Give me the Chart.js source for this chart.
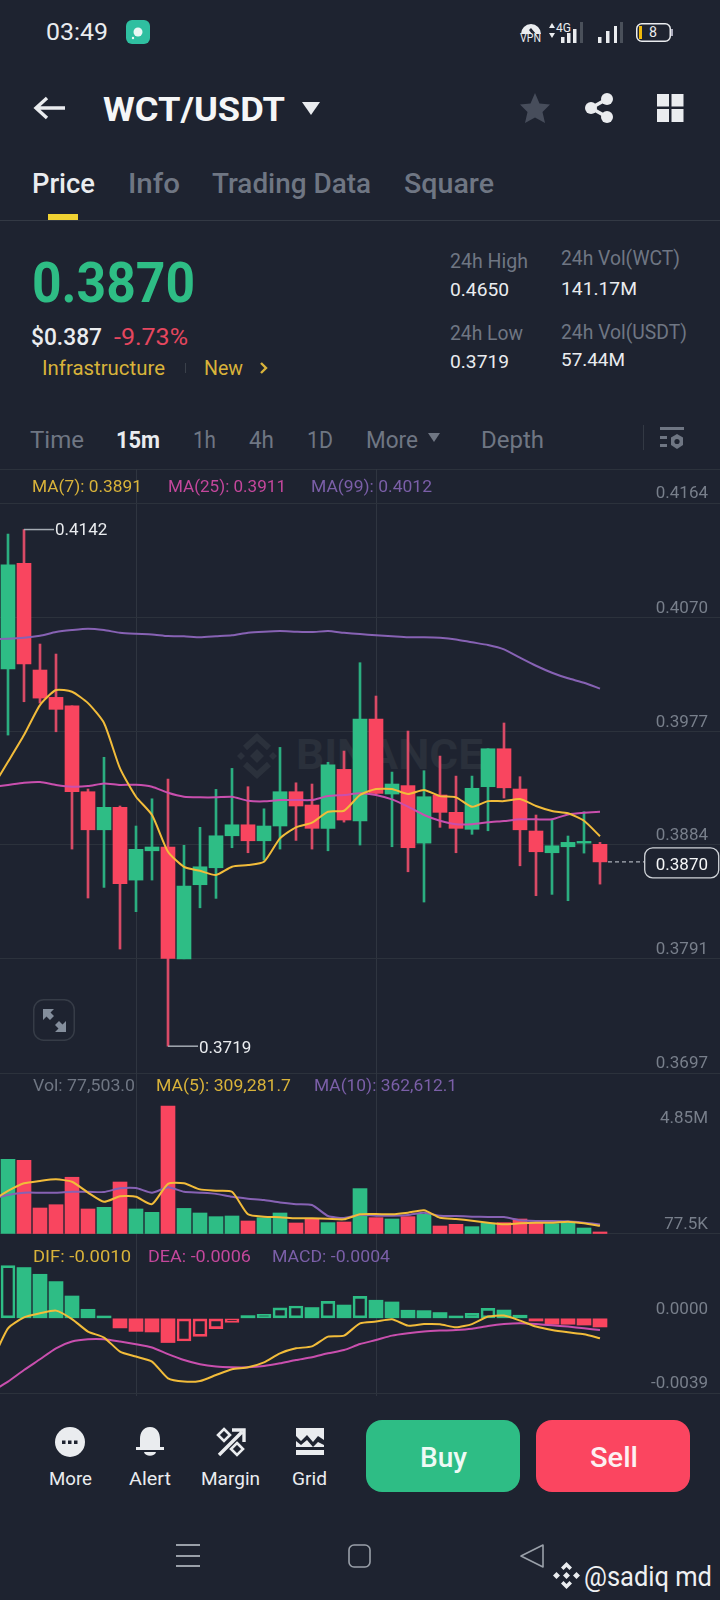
<!DOCTYPE html>
<html><head><meta charset="utf-8">
<script src="https://cdn.jsdelivr.net/npm/chart.js@4"></script>
<style>
html,body{margin:0;padding:0;background:#1e2330;}
#page{position:relative;width:720px;height:1600px;overflow:hidden;background:#1e2330;font-family:Roboto,sans-serif;}
.t{position:absolute;white-space:nowrap;transform-origin:0 50%;transform:translateY(-50%);line-height:1;}
.l{position:absolute;left:0;width:720px;height:1px;background:#2c323c;}
canvas{position:absolute;left:-15.7px;}
svg{position:absolute;overflow:visible;}
</style></head>
<body><div id="page">

<!-- status bar -->
<div class="t" data-w="62" style="left:46px;top:32px;font-size:24px;color:#eaecef">03:49</div>
<svg style="left:126px;top:20px" width="24" height="24"><rect width="24" height="24" rx="6" fill="#2fbfa0"/><circle cx="12" cy="12" r="4.5" fill="#eaf7f4"/><circle cx="7" cy="18" r="1.2" fill="#eaf7f4"/><circle cx="18" cy="11" r="1" fill="#2fbfa0"/></svg>
<svg style="left:520px;top:22px" width="22" height="12"><path d="M1 12 A10 10 0 0 1 21 12 L16 12 L11 6 L9 8 L12 12 L5 12 Z" fill="#eaecef"/></svg>
<div class="t" data-w="21" style="left:520px;top:38px;font-size:12px;color:#eaecef">VPN</div>
<svg style="left:549px;top:23px" width="6" height="16"><path d="M3 0 L6 5 H0 Z M3 15 L6 10 H0 Z" fill="#eaecef"/></svg>
<div class="t" data-w="15" style="left:556px;top:28px;font-size:12px;color:#eaecef">4G</div>
<svg style="left:561px;top:22px" width="64" height="21"><rect x="0" y="15" width="3.5" height="6" fill="#eaecef"/><rect x="6" y="11" width="3.5" height="10" fill="#eaecef"/><rect x="12" y="7" width="3.5" height="14" fill="#eaecef"/><rect x="19" y="0" width="3" height="21" fill="#4a505a"/><rect x="37" y="15" width="3.5" height="6" fill="#eaecef"/><rect x="45" y="9" width="3.5" height="12" fill="#eaecef"/><rect x="53" y="4" width="3" height="17" fill="#eaecef"/><rect x="59" y="0" width="3" height="21" fill="#4a505a"/></svg>
<svg style="left:636px;top:23px" width="38" height="19"><rect x=".75" y=".75" width="33.5" height="17.5" rx="5" fill="none" stroke="#eaecef" stroke-width="1.5"/><rect x="3" y="3" width="3" height="13" fill="#f0b90b"/><rect x="35" y="6" width="2" height="7" fill="#aab"/></svg>
<div class="t" data-w="8" style="left:649px;top:32px;font-size:14px;color:#eaecef">8</div>

<!-- title bar -->
<svg style="left:34px;top:97px" width="31" height="22"><path d="M31 11 H3 M13 1 L2 11 L13 21" fill="none" stroke="#eaecef" stroke-width="3.4"/></svg>
<div class="t" data-w="182" style="left:103px;top:109px;font-size:34px;font-weight:700;color:#f5f6f7">WCT/USDT</div>
<svg style="left:302px;top:102px" width="18" height="13"><path d="M0 0 H18 L9 13 Z" fill="#eaecef"/></svg>
<svg style="left:520px;top:93px" width="30" height="30"><path d="M15 0 L19.5 10.5 L30 11.5 L22.5 19 L25 30 L15 24.5 L5 30 L7.5 19 L0 11.5 L10.5 10.5 Z" fill="#474d5b"/></svg>
<svg style="left:585px;top:93px" width="29" height="30"><path d="M22 6 L6 15 L22 24" fill="none" stroke="#eaecef" stroke-width="3.5"/><circle cx="22" cy="6" r="6" fill="#eaecef"/><circle cx="6" cy="15" r="6" fill="#eaecef"/><circle cx="22" cy="24" r="6" fill="#eaecef"/></svg>
<svg style="left:657px;top:94px" width="26" height="28"><rect width="12" height="12.5" fill="#eaecef"/><rect x="14.5" width="12" height="12.5" fill="#eaecef"/><rect y="15" width="12" height="13" fill="#eaecef"/><rect x="14.5" y="15" width="12" height="13" fill="#eaecef"/></svg>

<!-- tabs -->
<div class="t" data-w="63" style="left:32px;top:184px;font-size:28px;font-weight:500;color:#eaecef">Price</div>
<div class="t" data-w="52" style="left:128px;top:184px;font-size:28px;font-weight:500;color:#6f7683">Info</div>
<div class="t" data-w="159" style="left:212px;top:184px;font-size:28px;font-weight:500;color:#6f7683">Trading Data</div>
<div class="t" data-w="90" style="left:404px;top:184px;font-size:28px;font-weight:500;color:#6f7683">Square</div>
<div style="position:absolute;left:48px;top:214px;width:30px;height:6px;background:#f0d232"></div>
<div class="l" style="top:220px;background:#333944"></div>

<!-- price block -->
<div class="t" data-w="163" style="left:32px;top:283px;font-size:56px;font-weight:700;color:#2ebd85">0.3870</div>
<div class="t" data-w="71" style="left:31px;top:337px;font-size:24px;font-weight:500;color:#eaecef">$0.387</div>
<div class="t" data-w="74" style="left:114px;top:337px;font-size:24px;color:#e5475f">-9.73%</div>
<div class="t" data-w="123" style="left:42px;top:368px;font-size:20px;color:#d9b33a">Infrastructure</div>
<div style="position:absolute;left:185px;top:363px;width:1px;height:10px;background:#3a404a"></div>
<div class="t" data-w="39" style="left:204px;top:368px;font-size:20px;color:#d9b33a">New</div>
<svg style="left:259px;top:362px" width="9" height="12"><path d="M2 1 L7 6 L2 11" fill="none" stroke="#d9b33a" stroke-width="2.4"/></svg>

<div class="t" data-w="78" style="left:450px;top:261px;font-size:20px;color:#6f7683">24h High</div>
<div class="t" data-w="59" style="left:450px;top:289px;font-size:19px;color:#eaecef">0.4650</div>
<div class="t" data-w="73" style="left:450px;top:333px;font-size:20px;color:#6f7683">24h Low</div>
<div class="t" data-w="59" style="left:450px;top:361px;font-size:19px;color:#eaecef">0.3719</div>
<div class="t" data-w="119" style="left:561px;top:258px;font-size:20px;color:#6f7683">24h Vol(WCT)</div>
<div class="t" data-w="76" style="left:561px;top:288px;font-size:19px;color:#eaecef">141.17M</div>
<div class="t" data-w="126" style="left:561px;top:332px;font-size:20px;color:#6f7683">24h Vol(USDT)</div>
<div class="t" data-w="64" style="left:561px;top:359px;font-size:19px;color:#eaecef">57.44M</div>

<!-- interval row -->
<div class="t" data-w="54" style="left:30px;top:440px;font-size:23px;color:#6f7683">Time</div>
<div class="t" data-w="44" style="left:116px;top:440px;font-size:23px;font-weight:700;color:#eaecef">15m</div>
<div class="t" data-w="23" style="left:193px;top:440px;font-size:23px;color:#6f7683">1h</div>
<div class="t" data-w="25" style="left:249px;top:440px;font-size:23px;color:#6f7683">4h</div>
<div class="t" data-w="26" style="left:307px;top:440px;font-size:23px;color:#6f7683">1D</div>
<div class="t" data-w="52" style="left:366px;top:440px;font-size:23px;color:#6f7683">More</div>
<svg style="left:428px;top:433px" width="12" height="9"><path d="M0 0 H12 L6 9 Z" fill="#6f7683"/></svg>
<div class="t" data-w="63" style="left:481px;top:440px;font-size:23px;color:#6f7683">Depth</div>
<div style="position:absolute;left:643px;top:425px;width:1px;height:25px;background:#333944"></div>
<svg style="left:660px;top:427px" width="24" height="24"><rect width="24" height="3" fill="#6f7683"/><rect y="9" width="7" height="3" fill="#6f7683"/><rect y="17" width="7" height="3" fill="#6f7683"/><path d="M17 7 L23 10.5 V18 L17 22 L11 18 V10.5 Z" fill="#6f7683"/><circle cx="17" cy="14.5" r="2.6" fill="#1e2330"/></svg>
<div class="l" style="top:469px"></div>

<!-- watermark -->
<svg style="left:237px;top:732px" width="40" height="48"><g fill="none" stroke="#2b313c" stroke-width="6"><path d="M8 16 L20 5 L32 16"/><path d="M8 32 L20 43 L32 32"/></g><path d="M20 17 L27 24 L20 31 L13 24 Z M4 20 L8 24 L4 28 L0 24 Z M36 20 L40 24 L36 28 L32 24 Z" fill="#2b313c"/></svg>
<div class="t" data-w="187" style="left:296px;top:755px;font-size:42px;font-weight:700;color:#2a303b">BINANCE</div>

<canvas id="priceChart" width="736" height="606" style="top:469px"></canvas>
<canvas id="volChart" width="736" height="163" style="top:1073px"></canvas>
<canvas id="macdChart" width="736" height="160" style="top:1236px"></canvas>

<!-- legends -->
<div class="t" data-w="110" style="left:32px;top:486px;font-size:17px;color:#d9b33a">MA(7): 0.3891</div>
<div class="t" data-w="118" style="left:168px;top:486px;font-size:17px;color:#c4479c">MA(25): 0.3911</div>
<div class="t" data-w="121" style="left:311px;top:486px;font-size:17px;color:#7b5fa8">MA(99): 0.4012</div>
<div class="t" data-w="102" style="left:33px;top:1085px;font-size:17px;color:#6f7683">Vol: 77,503.0</div>
<div class="t" data-w="135" style="left:156px;top:1085px;font-size:17px;color:#d9b33a">MA(5): 309,281.7</div>
<div class="t" data-w="143" style="left:314px;top:1085px;font-size:17px;color:#7b5fa8">MA(10): 362,612.1</div>
<div class="t" data-w="98" style="left:33px;top:1256px;font-size:17px;color:#d9b33a">DIF: -0.0010</div>
<div class="t" data-w="103" style="left:148px;top:1256px;font-size:17px;color:#c4479c">DEA: -0.0006</div>
<div class="t" data-w="118" style="left:272px;top:1256px;font-size:17px;color:#7b5fa8">MACD: -0.0004</div>

<!-- expand -->
<svg style="left:33px;top:999px" width="42" height="42"><rect x=".75" y=".75" width="40.5" height="40.5" rx="10" fill="#1e2330" stroke="#363c47" stroke-width="1.5"/><path d="M10 10 H21 L17.5 13.5 L21 17 L17 21 L13.5 17.5 L10 21 Z M33 33 H22 L25.5 29.5 L22 26 L26 22 L29.5 25.5 L33 22 Z" fill="#848e9c"/></svg>

<!-- bottom bar -->
<svg style="left:55px;top:1427px" width="30" height="30"><circle cx="15" cy="15" r="15" fill="#eaecef"/><rect x="7" y="13.5" width="3.5" height="3.5" fill="#1e2330"/><rect x="13" y="13.5" width="3.5" height="3.5" fill="#1e2330"/><rect x="19" y="13.5" width="3.5" height="3.5" fill="#1e2330"/></svg>
<div class="t" data-w="43" style="left:49px;top:1478px;font-size:19px;color:#eaecef">More</div>
<svg style="left:136px;top:1427px" width="28" height="30"><path d="M14 0 C7 0 4 6 4 12 V20 H0 V23 H28 V20 H24 V12 C24 6 21 0 14 0 Z M8 25 H20 C19 30 9 30 8 25 Z" fill="#eaecef"/></svg>
<div class="t" data-w="42" style="left:129px;top:1478px;font-size:19px;color:#eaecef">Alert</div>
<svg style="left:217px;top:1428px" width="28" height="28"><path d="M2 27 L25 4 M15 2 H27 V14" fill="none" stroke="#eaecef" stroke-width="3.4"/><path d="M7 1 L13 7 L7 13 L1 7 Z M20 15 L26 21 L20 27 L14 21 Z" fill="none" stroke="#eaecef" stroke-width="2.6"/></svg>
<div class="t" data-w="59" style="left:201px;top:1478px;font-size:19px;color:#eaecef">Margin</div>
<svg style="left:296px;top:1428px" width="28" height="28"><path d="M0 0 H28 V12 L22 8 L17 14 L11 7 L5 13 L0 8 Z M0 13 L5 17 L11 12 L17 19 L22 14 L28 17 V19 H0 Z" fill="#eaecef"/><rect y="22" width="28" height="5" fill="#eaecef"/></svg>
<div class="t" data-w="35" style="left:292px;top:1478px;font-size:19px;color:#eaecef">Grid</div>
<div style="position:absolute;left:366px;top:1420px;width:154px;height:72px;border-radius:16px;background:#2ebd85"></div>
<div style="position:absolute;left:536px;top:1420px;width:154px;height:72px;border-radius:16px;background:#fb4560"></div>
<div class="t" data-w="47" style="left:420px;top:1458px;font-size:27px;font-weight:500;color:#eefaf5">Buy</div>
<div class="t" data-w="48" style="left:590px;top:1458px;font-size:27px;font-weight:500;color:#fdf0f2">Sell</div>
<svg style="left:176px;top:1544px" width="24" height="24"><rect y="0" width="24" height="2" fill="#9aa0a9"/><rect y="11" width="24" height="2" fill="#9aa0a9"/><rect y="21" width="24" height="2" fill="#9aa0a9"/></svg>
<svg style="left:348px;top:1544px" width="24" height="24"><rect x="1" y="1" width="21" height="22" rx="5" fill="none" stroke="#9aa0a9" stroke-width="1.6"/></svg>
<svg style="left:520px;top:1544px" width="24" height="24"><path d="M23 1 V23 L1 12 Z" fill="none" stroke="#9aa0a9" stroke-width="1.6" stroke-linejoin="round"/></svg>
<svg style="left:553px;top:1562px" width="27" height="27"><path d="M13.5 0 L19 5.5 L16.5 8 L13.5 5 L10.5 8 L8 5.5 Z M13.5 27 L19 21.5 L16.5 19 L13.5 22 L10.5 19 L8 21.5 Z M13.5 10 L17 13.5 L13.5 17 L10 13.5 Z M3.5 10 L7 13.5 L3.5 17 L0 13.5 Z M23.5 10 L27 13.5 L23.5 17 L20 13.5 Z" fill="#eaecef"/></svg>
<div class="t" data-w="128" style="left:584px;top:1577px;font-size:27px;color:#eef0f2">@sadiq md</div>
</div>

<script>
// candle categories: 15-minute bars, first slot is only for the indicator lines entering from the left edge
const categories = ["18:15","18:30","18:45","19:00","19:15","19:30","19:45","20:00","20:15","20:30","20:45","21:00","21:15","21:30","21:45","22:00","22:15","22:30","22:45","23:00","23:15","23:30","23:45","00:00","00:15","00:30","00:45","01:00","01:15","01:30","01:45","02:00","02:15","02:30","02:45","03:00","03:15","03:30","03:45","","","","","","",""];

const opens = [null,.40282,.41146,.40272,.40048,.39979,.39275,.38963,.39147,.38551,.38791,.38822,.37906,.38513,.38652,.38914,.39004,.38873,.38994,.39275,.39166,.38975,.39458,.39035,.3987,.39256,.39325,.38854,.39248,.39106,.38967,.39316,.39627,.39297,.38953,.38775,.38824,.38854,.38844];
const highs = [null,.41386,.41423,.40485,.40403,.39979,.39297,.39557,.39158,.38994,.39217,.39379,.38836,.38983,.39294,.39466,.39316,.39135,.39638,.39348,.39338,.39516,.39608,.40332,.40059,.39436,.39772,.39447,.39567,.39403,.39403,.39627,.39838,.39398,.39084,.39043,.38912,.39111,.3886];
const lows = [null,.39739,.40012,.40001,.39766,.38805,.38404,.38491,.37986,.38292,.38551,.3719,.37906,.38324,.38401,.38816,.38775,.38715,.38805,.38876,.38805,.38791,.39026,.38838,.39248,.38824,.38619,.38371,.38983,.38775,.38926,.38955,.39223,.38668,.38423,.38434,.38382,.38772,.38518];
const closes = [null,.41134,.40323,.40042,.3995,.39275,.38963,.39147,.38521,.38803,.38822,.3791,.38502,.3866,.38914,.39004,.38873,.38994,.39275,.39158,.38975,.39496,.39043,.3987,.39262,.39338,.38816,.39234,.39106,.38975,.39303,.39627,.39307,.38963,.38783,.38832,.3886,.38868,.387];

const ma7 = [.39305,.3952,.39739,.39985,.40108,.40094,.40001,.39838,.39466,.39234,.39084,.38783,.3866,.38627,.38592,.3866,.38674,.38701,.38893,.38983,.39021,.39111,.39119,.39248,.39297,.39297,.39256,.39289,.39239,.39229,.39152,.39198,.39198,.39215,.39158,.39117,.39098,.39037,.3891];
const ma25 = [.39313,.3933,.39348,.39354,.3933,.39316,.39321,.39343,.3933,.39332,.39316,.39266,.39234,.39229,.39229,.39234,.39201,.39196,.39207,.39207,.39207,.39239,.39248,.39262,.39248,.39212,.39152,.39084,.39037,.39008,.39008,.39024,.39035,.39049,.39049,.39049,.39089,.39103,.3911];
const ma99 = [.40526,.40528,.40536,.40553,.40583,.40599,.4061,.40599,.40577,.40569,.40564,.4055,.40548,.4054,.40548,.40556,.40577,.40586,.40591,.40586,.40583,.40591,.40577,.40567,.40556,.40548,.4054,.4054,.40536,.40523,.40499,.40477,.40441,.40373,.40307,.4025,.40204,.40168,.4012];

const volumes = [null,2830000,2790000,985000,1110000,2150000,948000,1010000,1970000,948000,820000,4850000,970000,796000,657000,682000,493000,619000,796000,417000,594000,430000,455000,1720000,619000,569000,657000,745000,303000,366000,278000,404000,430000,569000,404000,392000,442000,227000,77503];
const volMA5 = [1250000,1630000,1920000,2010000,2070000,1980000,1570000,1220000,1430000,1410000,1130000,1900000,1920000,1690000,1640000,1600000,747000,656000,633000,595000,595000,580000,557000,747000,758000,747000,807000,898000,618000,569000,504000,428000,368000,406000,428000,428000,466000,406000,309282];
const volMA10 = [1330000,1480000,1565000,1565000,1565000,1600000,1600000,1590000,1730000,1740000,1565000,1770000,1600000,1565000,1520000,1410000,1340000,1290000,1190000,1130000,1100000,682000,606000,731000,694000,694000,720000,807000,694000,682000,656000,644000,644000,519000,493000,493000,481000,428000,362612];

const macdHist = [null,.00274,.00264,.00229,.00191,.00116,.00047,.00012,-.0005,-.00068,-.00071,-.00126,-.00118,-.00094,-.00054,-.00022,.00014,.00021,.00054,.00064,.00056,.00088,.00069,.00114,.00094,.00085,.00042,.0004,.0003,.00012,.00026,.00052,.00043,.00016,-.00014,-.00031,-.00031,-.00035,-.00045];
const macdHollow = [0,1,0,0,0,0,0,0,0,0,0,0,1,1,1,1,0,1,1,1,0,1,0,1,0,0,0,0,0,0,1,1,0,0,0,0,0,0,0];
const dif = [-.00224,-.00052,.00005,.00026,.0004,-.00004,-.00069,-.001,-.00173,-.00199,-.00225,-.00312,-.00329,-.00326,-.00295,-.00265,-.00255,-.00229,-.00182,-.00156,-.00146,-.00095,-.0009,-.00026,-.00017,-.00005,-.00038,-.0003,-.00031,-.00047,-.0003,.00009,.00014,-.00012,-.00043,-.00061,-.00073,-.00083,-.00104];
const dea = [-.0038,-.00329,-.00269,-.00213,-.00156,-.00121,-.00109,-.00109,-.00121,-.00135,-.00152,-.00186,-.00217,-.00239,-.00251,-.00255,-.00255,-.00248,-.00234,-.00217,-.00203,-.00182,-.00165,-.00134,-.00113,-.0009,-.00078,-.00069,-.00064,-.00061,-.00054,-.0004,-.0003,-.00026,-.0003,-.00036,-.00043,-.00052,-.00061];

const priceTicks = [.4164,.4070,.3977,.3884,.3791,.3697];
const macdTicks = [0,-.0039];
const lastPrice = .3870;

const GREEN = '#2ebd85', RED = '#f9455f', GRID = '#2c323c', BG = '#1e2330', AXIS = '#787f8b';
const YEL = '#f2bc3a', MAG = '#c94fae', PUR = '#8762b4';
const LABEL_X = 724;
const isUp = i => closes[i] >= opens[i];
const tickAt = vals => s => { s.ticks = vals.map(v => ({value:v})); };
const lineDs = (data,color) => ({type:'line',data,borderColor:color,borderWidth:2,pointRadius:0,tension:.2,spanGaps:false,order:1});

function baseOptions(yMin,yMax,ticks,gridColor){
  return {
    responsive:false,animation:false,
    layout:{padding:0},
    plugins:{legend:{display:false},tooltip:{enabled:false}},
    scales:{
      x:{type:'category',offset:true,
         grid:{offset:false,drawTicks:false,color:c => (c.index===9||c.index===24)?'#2f3540':'rgba(0,0,0,0)'},
         border:{display:false},ticks:{display:false,autoSkip:false}},
      y:{position:'left',min:yMin,max:yMax,afterBuildTicks:tickAt(ticks),afterFit:s=>{s.width=0;},
         grid:{drawTicks:false,color:gridColor||GRID},border:{display:false},
         ticks:{display:false}}
    }
  };
}
// value labels sit above their grid line at the right of the panel
const axisLabels = {
  id:'axisLabels',
  afterDatasetsDraw(chart,args,opts){
    const {ctx,scales:{y}} = chart;
    ctx.save();
    ctx.fillStyle=AXIS;ctx.font='17px Roboto';ctx.textAlign='right';ctx.textBaseline='middle';
    opts.items.forEach(it=>ctx.fillText(it.text,LABEL_X,y.getPixelForValue(it.value)+it.dy));
    ctx.restore();
  }
};

const priceAnnotations = {
  id:'priceAnnotations',
  afterDatasetsDraw(chart){
    const {ctx,scales:{x,y}} = chart;
    const mark = (i,val,dLine,dText) => {
      const px = x.getPixelForValue(i), py = y.getPixelForValue(val);
      ctx.strokeStyle='#a5abb3';ctx.lineWidth=1.5;
      ctx.beginPath();ctx.moveTo(px,py+dLine);ctx.lineTo(px+30,py+dLine);ctx.stroke();
      ctx.fillStyle='#eaecef';ctx.font='17px Roboto';ctx.textAlign='left';ctx.textBaseline='middle';
      ctx.fillText(val.toFixed(4),px+31,py+dText);
    };
    const hi = Math.max(...highs.filter(v=>v!=null)), lo = Math.min(...lows.filter(v=>v!=null));
    mark(highs.indexOf(hi),hi,0,1); mark(lows.indexOf(lo),lo,0,3);
    const last = closes.length-1, py = y.getPixelForValue(lastPrice), px = x.getPixelForValue(last);
    const boxL = 660.7, boxW = 74, boxH = 30;
    ctx.save();
    ctx.strokeStyle='#aab0b8';ctx.lineWidth=1.2;ctx.setLineDash([4,3]);
    ctx.beginPath();ctx.moveTo(px+8,py);ctx.lineTo(boxL,py);ctx.stroke();ctx.setLineDash([]);
    ctx.fillStyle=BG;ctx.strokeStyle='#cfd3d8';ctx.lineWidth=1.3;
    ctx.beginPath();ctx.roundRect(boxL,py-14,boxW,boxH,8);ctx.fill();ctx.stroke();
    ctx.fillStyle='#f5f6f7';ctx.font='17px Roboto';ctx.textAlign='right';ctx.textBaseline='middle';
    ctx.fillText(lastPrice.toFixed(4),LABEL_X,py+4);
    ctx.restore();
  }
};

const withLabels = (o,items) => { o.plugins.axisLabels = {items}; return o; };

new Chart(document.getElementById('priceChart'),{
  type:'bar',
  data:{labels:categories,datasets:[
    lineDs(ma7,YEL),lineDs(ma25,MAG),lineDs(ma99,PUR),
    {data:opens.map((o,i)=>o==null?null:[o,closes[i]]),grouped:false,barThickness:14,order:2,
     backgroundColor:c=>isUp(c.dataIndex)?GREEN:RED},
    {data:lows.map((l,i)=>l==null?null:[l,highs[i]]),grouped:false,barThickness:2,order:3,
     backgroundColor:c=>isUp(c.dataIndex)?'#2bae80':'#d94a66'}
  ]},
  options:withLabels(baseOptions(.36954,.41919,priceTicks),priceTicks.map(v=>({text:v.toFixed(4),value:v,dy:-9}))),
  plugins:[priceAnnotations,axisLabels]
});

new Chart(document.getElementById('volChart'),{
  type:'bar',
  data:{labels:categories,datasets:[
    lineDs(volMA5,YEL),lineDs(volMA10,PUR),
    {data:volumes,grouped:false,barThickness:14,order:2,backgroundColor:c=>isUp(c.dataIndex)?GREEN:RED}
  ]},
  options:withLabels(baseOptions(-75800,6100000,[0]),[{text:'4.85M',value:4850000,dy:13},{text:'77.5K',value:77503,dy:-7}]),
  plugins:[axisLabels]
});

const histColor = c => macdHist[c.dataIndex]>=0?GREEN:RED;
new Chart(document.getElementById('macdChart'),{
  type:'bar',
  data:{labels:categories,datasets:[
    lineDs(dif,YEL),lineDs(dea,MAG),
    {data:macdHist,grouped:false,barThickness:14,order:2,borderSkipped:false,borderWidth:c=>macdHollow[c.dataIndex]?2:0,
     borderColor:histColor,backgroundColor:c=>macdHollow[c.dataIndex]?'rgba(0,0,0,0)':histColor(c)}
  ]},
  options:withLabels(baseOptions(-.00404,.00428,macdTicks,c=>c.tick.value===0?'rgba(0,0,0,0)':GRID),[{text:'0.0000',value:0,dy:-9},{text:'-0.0039',value:-.0039,dy:-10}]),
  plugins:[axisLabels]
});

// fit chrome text to its measured width in the screenshot
document.querySelectorAll('.t[data-w]').forEach(el=>{
  const w = el.getBoundingClientRect().width, target = +el.dataset.w;
  el.style.transform = 'translateY(-50%) scaleX('+(target/w)+')';
});
</script>
</body></html>
